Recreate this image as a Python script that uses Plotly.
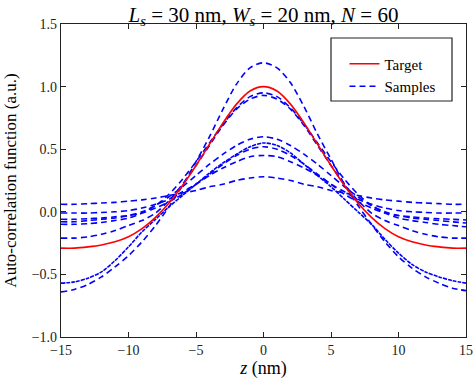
import plotly.graph_objects as go

# Data
z = list(range(-15, 16))

target = [-0.29, -0.29, -0.28, -0.265, -0.24, -0.20, -0.135, -0.045, 0.07, 0.21, 0.37, 0.54, 0.71, 0.86, 0.965,
          1.0,
          0.965, 0.86, 0.71, 0.54, 0.37, 0.21, 0.07, -0.045, -0.135, -0.20, -0.24, -0.265, -0.28, -0.29, -0.29]

sample_a = [-0.64, -0.62, -0.58, -0.52, -0.44, -0.35, -0.24, -0.11, 0.04, 0.21, 0.40, 0.60, 0.82, 1.02, 1.15,
            1.19,
            1.15, 1.03, 0.84, 0.62, 0.42, 0.22, 0.05, -0.10, -0.24, -0.36, -0.45, -0.52, -0.57, -0.61, -0.63]
sample_b = [-0.57, -0.56, -0.53, -0.48, -0.39, -0.28, -0.16, -0.06, 0.04, 0.13, 0.22, 0.31, 0.39, 0.46, 0.52,
            0.55,
            0.53, 0.47, 0.38, 0.29, 0.20, 0.10, 0.00, -0.10, -0.22, -0.33, -0.42, -0.48, -0.52, -0.55, -0.57]
sample_c = [-0.21, -0.21, -0.20, -0.18, -0.15, -0.11, -0.07, -0.01, 0.09, 0.22, 0.37, 0.53, 0.69, 0.82, 0.90,
            0.93,
            0.90, 0.82, 0.69, 0.53, 0.37, 0.22, 0.09, -0.01, -0.07, -0.11, -0.15, -0.18, -0.20, -0.21, -0.21]
sample_d = [-0.10, -0.10, -0.095, -0.085, -0.07, -0.05, -0.01, 0.05, 0.14, 0.26, 0.40, 0.55, 0.70, 0.83, 0.92,
            0.95,
            0.92, 0.83, 0.70, 0.55, 0.40, 0.26, 0.14, 0.05, -0.01, -0.05, -0.07, -0.085, -0.10, -0.11, -0.12]
sample_e = [-0.08, -0.08, -0.07, -0.06, -0.05, -0.03, 0.00, 0.05, 0.12, 0.20, 0.29, 0.38, 0.46, 0.53, 0.58,
            0.60,
            0.58, 0.53, 0.46, 0.38, 0.29, 0.20, 0.12, 0.05, 0.00, -0.03, -0.05, -0.06, -0.07, -0.08, -0.09]
sample_f = [-0.06, -0.06, -0.055, -0.05, -0.04, -0.03, -0.01, 0.03, 0.08, 0.14, 0.22, 0.30, 0.38, 0.45, 0.50,
            0.52,
            0.50, 0.45, 0.38, 0.30, 0.22, 0.14, 0.08, 0.03, -0.01, -0.03, -0.04, -0.05, -0.055, -0.06, -0.065]
sample_g = [-0.01, -0.01, -0.01, -0.005, 0.00, 0.01, 0.03, 0.06, 0.10, 0.16, 0.22, 0.29, 0.35, 0.40, 0.44,
            0.45,
            0.44, 0.40, 0.35, 0.29, 0.22, 0.16, 0.10, 0.06, 0.03, 0.01, 0.00, -0.005, -0.01, -0.01, -0.01]
sample_h = [0.06, 0.06, 0.065, 0.07, 0.075, 0.085, 0.095, 0.11, 0.13, 0.15, 0.17, 0.20, 0.22, 0.25, 0.27,
            0.28,
            0.27, 0.25, 0.22, 0.20, 0.17, 0.15, 0.13, 0.11, 0.095, 0.085, 0.075, 0.07, 0.065, 0.06, 0.06]

samples = [sample_a, sample_b, sample_c, sample_d, sample_e, sample_f, sample_g, sample_h]
dense = [False, True, False, False, False, False, False, False]

x_ticks = [-15, -10, -5, 0, 5, 10, 15]
y_ticks = [-1.0, -0.5, 0.0, 0.5, 1.0, 1.5]

FONT = "Liberation Serif"

fig = go.Figure()
for i, s in enumerate(samples):
    fig.add_trace(go.Scatter(
        x=z, y=s, mode="lines", name="Samples", legendgroup="samples", legendrank=2,
        showlegend=(i == 0),
        line=dict(color="#0000ff", width=1.6, shape="spline", smoothing=0.8,
                  dash=("4px,1px" if dense[i] else "6px,4px"))))
fig.add_trace(go.Scatter(x=z, y=target, mode="lines", name="Target", legendrank=1,
                         line=dict(color="#ff0000", width=1.6, shape="spline", smoothing=0.8)))

axis_common = dict(showgrid=False, zeroline=False, showline=True, linecolor="#222", linewidth=1.2,
                   mirror="ticks", ticks="inside", ticklen=5, tickwidth=1, tickcolor="#222",
                   tickfont=dict(family=FONT, size=14, color="#222"))

fig.update_layout(
    width=474, height=379,
    margin=dict(l=61, r=8, t=24, b=42),
    paper_bgcolor="white", plot_bgcolor="white",
    font=dict(family=FONT, color="black"),
    title=dict(text="<i>L</i><sub><i>s</i></sub> = 30 nm, <i>W</i><sub><i>s</i></sub> = 20 nm, <i>N</i> = 60",
               xref="paper", x=0.5, xanchor="center", yref="container", y=0.982, yanchor="top",
               font=dict(family=FONT, size=21, color="black")),
    xaxis=dict(range=[-15, 15], tickvals=x_ticks, ticktext=[f"{v}".replace("-", "\u2212") for v in x_ticks],
               title=dict(text="<i>z</i> (nm)", font=dict(family=FONT, size=18, color="black"), standoff=0),
               automargin=False, **axis_common),
    yaxis=dict(range=[-1.0, 1.5], tickvals=y_ticks,
               ticktext=[f"{v:.1f}".replace("-", "\u2212") for v in y_ticks],
               title=dict(text="Auto-correlation function (a.u.)",
                          font=dict(family=FONT, size=17, color="black"), standoff=10),
               automargin=False, **axis_common),
    legend=dict(x=0.70, y=0.925, xanchor="left", yanchor="top",
                borderwidth=0, bgcolor="rgba(0,0,0,0)",
                font=dict(family=FONT, size=15, color="black"),
                itemwidth=30, tracegroupgap=0),
    shapes=[dict(type="rect", xref="paper", yref="paper",
                 x0=(331 - 61) / 405, x1=(452 - 61) / 405,
                 y0=(337 - 101) / 313, y1=(337 - 38) / 313,
                 line=dict(color="#222", width=1.2), fillcolor="white", layer="below")],
)

fig.write_html("out.html", config={"displayModeBar": False},
               post_script="document.body.style.margin='0px';")
